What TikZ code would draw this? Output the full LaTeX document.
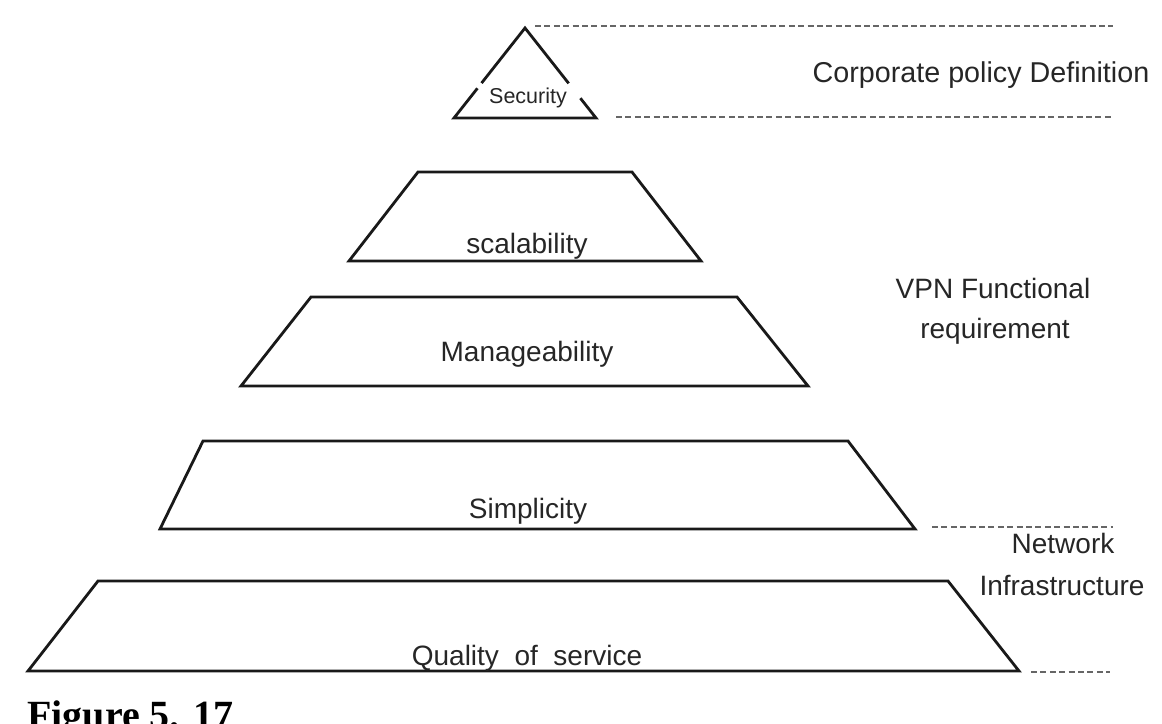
\documentclass[tikz,border=0pt]{standalone}
\usepackage{fontspec}
\usetikzlibrary{calc}
\setmainfont{Liberation Sans}
\newfontfamily\figfont{Liberation Serif}
\begin{document}
\begin{tikzpicture}[x=1pt,y=-1pt,
  level/.style={draw=black!90, line width=2.8pt, line join=miter},
  lbl/.style={anchor=base, inner sep=0pt, text=black!85, font=\fontsize{28}{33}\selectfont},
  side/.style={anchor=base, inner sep=0pt, text=black!85, font=\fontsize{28}{33}\selectfont, align=center},
  guide/.style={draw=black!60, line width=1.4pt, dash pattern=on 6pt off 3.4pt}]
\useasboundingbox (0,0) rectangle (1162,723);
% triangle (Security)
\coordinate (apex) at (525,28);
\coordinate (bl) at (454,118);
\coordinate (br) at (596,118);
\draw[level, line cap=butt] ($(apex)!0.612!(bl)$) -- (apex) -- ($(apex)!0.615!(br)$);
\draw[level] ($(apex)!0.67!(bl)$) -- (bl) -- (br) -- ($(apex)!0.78!(br)$);
\node[lbl, font=\fontsize{21.5}{25}\selectfont] (security) at (528,103) {Security};
% trapezoids
\draw[level] (418,172) -- (632,172) -- (701,261) -- (349,261) -- cycle;
\node[lbl] (scal) at (527,253) {scalability};
\draw[level] (311,297) -- (737,297) -- (808,386) -- (241,386) -- cycle;
\node[lbl] (manage) at (527,361) {Manageability};
\draw[level] (203,441) -- (848,441) -- (915,529) -- (160,529) -- cycle;
\node[lbl] (simp) at (528,518) {Simplicity};
\draw[level] (98,581) -- (948,581) -- (1019,671) -- (28,671) -- cycle;
\node[lbl] (qos) at (527,665) {Quality\ \ of\ \ service};
% guides
\coordinate (g1a) at (535,26); \coordinate (g1b) at (1113,26);
\coordinate (g2a) at (616,117); \coordinate (g2b) at (1113,117);
\coordinate (g3a) at (932,527); \coordinate (g3b) at (1113,527);
\coordinate (g4a) at (1031,672); \coordinate (g4b) at (1110,672);
\draw[guide] (g1a) -- (g1b);
\draw[guide] (g2a) -- (g2b);
\draw[guide] (g3a) -- (g3b);
\draw[guide] (g4a) -- (g4b);
% side labels
\node[side, font=\fontsize{28.7}{33}\selectfont] (corp) at (981,82) {Corporate policy Definition};
\node[side] (vpn1) at (993,298) {VPN Functional};
\node[side] (vpn2) at (995,338) {requirement};
\node[side] (net1) at (1063,553) {Network};
\node[side] (net2) at (1062,595) {Infrastructure};
% caption
\node[anchor=base west, inner sep=0pt, font=\figfont\bfseries\fontsize{40}{44}\selectfont] (fig) at (27,728.5) {Figure 5. 17};
\end{tikzpicture}
\end{document}
